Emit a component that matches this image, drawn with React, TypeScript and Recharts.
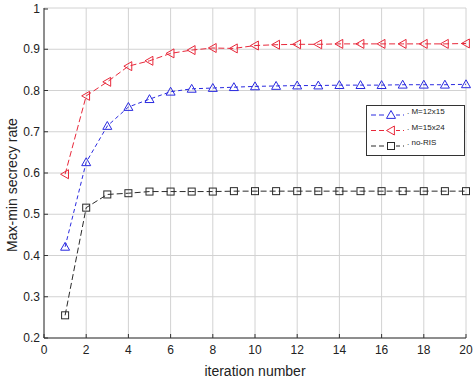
import React from 'react';
import { LineChart, Line, XAxis, YAxis, CartesianGrid } from 'recharts';

const iterations = [1, 2, 3, 4, 5, 6, 7, 8, 9, 10, 11, 12, 13, 14, 15, 16, 17, 18, 19, 20];
const rateM12x15 = [0.421, 0.626, 0.714, 0.760, 0.779, 0.797, 0.804, 0.806, 0.808, 0.810, 0.811, 0.812, 0.812, 0.813, 0.813, 0.813, 0.814, 0.814, 0.814, 0.815];
const rateM15x24 = [0.597, 0.787, 0.821, 0.859, 0.872, 0.890, 0.898, 0.903, 0.902, 0.909, 0.911, 0.912, 0.912, 0.913, 0.913, 0.913, 0.913, 0.913, 0.913, 0.914];
const rateNoRis = [0.255, 0.516, 0.548, 0.551, 0.555, 0.555, 0.555, 0.555, 0.556, 0.556, 0.556, 0.556, 0.556, 0.556, 0.556, 0.556, 0.556, 0.556, 0.556, 0.556];
const xTicks = [0, 2, 4, 6, 8, 10, 12, 14, 16, 18, 20];
const yTicks = [0.2, 0.3, 0.4, 0.5, 0.6, 0.7, 0.8, 0.9, 1];
const seriesNames = ['M=12x15', 'M=15x24', 'no-RIS'];

const BLUE = '#2a2ae0';
const RED = '#e8283a';
const BLACK = '#2a2a2a';
const FONT = '"Liberation Sans", Arial, sans-serif';

const data = iterations.map((it, i) => ({
  it,
  a: rateM12x15[i],
  b: rateM15x24[i],
  c: rateNoRis[i],
}));

const TriUp = (props: any) => {
  const { cx, cy, stroke, size = 4.5 } = props;
  if (cx == null || cy == null) return null;
  return (
    <polygon
      points={`${cx},${cy - size} ${cx - size},${cy + size * 0.75} ${cx + size},${cy + size * 0.75}`}
      fill="none"
      stroke={stroke}
      strokeWidth={1}
    />
  );
};

const TriLeft = (props: any) => {
  const { cx, cy, stroke, size = 4.5 } = props;
  if (cx == null || cy == null) return null;
  return (
    <polygon
      points={`${cx - size},${cy} ${cx + size * 0.75},${cy - size} ${cx + size * 0.75},${cy + size}`}
      fill="none"
      stroke={stroke}
      strokeWidth={1}
    />
  );
};

const Square = (props: any) => {
  const { cx, cy, stroke, size = 3.5 } = props;
  if (cx == null || cy == null) return null;
  return <rect x={cx - size} y={cy - size} width={size * 2} height={size * 2} fill="none" stroke={stroke} strokeWidth={1} />;
};

const XTick = (props: any) => {
  const { x, y, payload } = props;
  return (
    <g>
      <line x1={x} y1={y} x2={x} y2={y - 4} stroke="#333" />
      <text x={x} y={y + 16} textAnchor="middle" fontSize={12} fill="#222" fontFamily={FONT}>
        {payload.value}
      </text>
    </g>
  );
};

const YTick = (props: any) => {
  const { x, y, payload } = props;
  return (
    <g>
      <line x1={x} y1={y} x2={x + 4} y2={y} stroke="#333" />
      <text x={x - 4} y={y + 4} textAnchor="end" fontSize={12} fill="#222" fontFamily={FONT}>
        {payload.value}
      </text>
    </g>
  );
};

// rotated y title, placed a bit below the plot centre like the original
const YTitle = () => (
  <text
    x={12}
    y={185}
    transform="rotate(-90 12 185)"
    textAnchor="middle"
    dominantBaseline="central"
    fontSize={14}
    fill="#222"
    fontFamily={FONT}
  >
    Max-min secrecy rate
  </text>
);

const legendRows = [
  { name: seriesNames[0], color: BLUE, Marker: TriUp, size: 4.5 },
  { name: seriesNames[1], color: RED, Marker: TriLeft, size: 4.5 },
  { name: seriesNames[2], color: BLACK, Marker: Square, size: 3.5 },
];

const LegendBox = () => (
  <div
    style={{
      position: 'absolute',
      left: 366,
      top: 105,
      width: 99,
      height: 51,
      border: '1px solid #333',
      background: '#fff',
      boxSizing: 'border-box',
    }}
  >
    <svg width={97} height={49} style={{ display: 'block' }}>
      {legendRows.map((r, i) => {
        const y = 9 + i * 15.5;
        const M = r.Marker;
        return (
          <g key={r.name}>
            <line x1={4} y1={y} x2={37} y2={y} stroke={r.color} strokeDasharray="5 3" />
            <rect x={19} y={y - 5} width={10} height={10} fill="#fff" />
            <M cx={24} cy={y} stroke={r.color} size={r.size} />
            <text x={40} y={y - 1} fontSize={8} fill="#222" fontFamily={FONT}>
              {'. ' + r.name}
            </text>
          </g>
        );
      })}
    </svg>
  </div>
);

export default function App() {
  return (
    <div style={{ position: 'absolute', left: 0, top: 0, width: 474, height: 381, background: '#fff' }}>
      <LineChart width={474} height={381} data={data} margin={{ top: 8, right: 8, bottom: 0, left: 0 }}>
        <CartesianGrid stroke="#d2d2d2" />
        <XAxis
          dataKey="it"
          type="number"
          domain={[0, 20]}
          ticks={xTicks}
          height={43}
          tickSize={0}
          tickMargin={0}
          tick={<XTick />}
          stroke="#333"
          label={{ value: 'iteration number', position: 'insideBottom', offset: 5, fontSize: 14, fill: '#222', fontFamily: FONT }}
        />
        <YAxis
          type="number"
          domain={[0.2, 1]}
          ticks={yTicks}
          width={44}
          tickSize={0}
          tickMargin={0}
          tick={<YTick />}
          stroke="#333"
          label={<YTitle />}
        />
        <Line dataKey="a" name={seriesNames[0]} stroke={BLUE} strokeWidth={1} strokeDasharray="4 3" dot={<TriUp />} isAnimationActive={false} />
        <Line dataKey="b" name={seriesNames[1]} stroke={RED} strokeWidth={1} strokeDasharray="6 3" dot={<TriLeft />} isAnimationActive={false} />
        <Line dataKey="c" name={seriesNames[2]} stroke={BLACK} strokeWidth={1} strokeDasharray="6 3" dot={<Square />} isAnimationActive={false} />
      </LineChart>
      <LegendBox />
    </div>
  );
}
